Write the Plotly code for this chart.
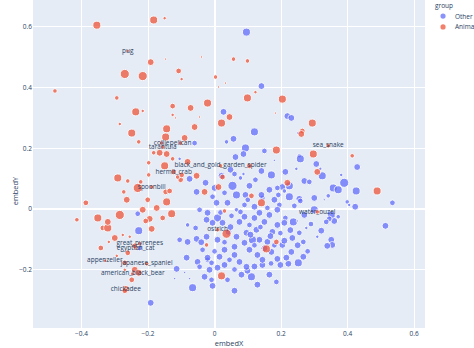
import plotly.graph_objects as go

# ---- data: Animal group (embedX, embedY, size, label) ----
animal_x = [-0.261, -0.159, -0.102, -0.156, 0.018, -0.123, -0.189, 0.342, 0.309, 0.009,
            -0.225, -0.237, -0.330, -0.204, -0.246, -0.267,
            -0.354, -0.183, -0.192, -0.270, -0.216, -0.480, -0.294, -0.237, -0.216, -0.150,
            -0.108, -0.099, 0.003, 0.057, 0.099, 0.123, 0.099, 0.204, -0.126, -0.072,
            -0.021, 0.045, -0.126, 0.294, 0.264, 0.261, 0.297, 0.414, 0.309, 0.489,
            0.219, 0.186, 0.105, 0.111, 0.141, 0.021, 0.156, -0.054, -0.102, -0.030,
            0.012, -0.144, -0.129, -0.156, 0.030, 0.036, 0.186, -0.024, -0.285, -0.249,
            -0.228, -0.144, -0.147, -0.090, -0.060, 0.021, -0.165, -0.144, -0.183, -0.126,
            -0.150, -0.198, -0.081, -0.099, -0.111, 0.024, -0.291, -0.261, -0.222, -0.198,
            -0.231, -0.201, -0.273, -0.264, -0.147, -0.135, -0.387, -0.414, -0.351, -0.336,
            -0.321, -0.321, -0.285, -0.216, -0.174, -0.195, -0.207, -0.189, -0.300, -0.276,
            -0.255, -0.342, -0.318, -0.261, -0.240, -0.294, -0.270, -0.270, -0.240, -0.228,
            -0.249, -0.270,
            -0.147, -0.039, 0.033, 0.012, 0.183, -0.117, -0.045]
animal_y = [0.521, 0.217, 0.217, 0.204, 0.142, 0.122, 0.072, 0.208, -0.010, -0.069,
            -0.115, -0.129, -0.171, -0.181, -0.214, -0.264,
            0.606, 0.623, 0.484, 0.445, 0.438, 0.389, 0.366, 0.320, 0.323, 0.629,
            0.455, 0.428, 0.435, 0.494, 0.488, 0.385, 0.366, 0.362, 0.339, 0.333,
            0.349, 0.303, 0.310, 0.283, 0.257, 0.247, 0.181, 0.175, 0.122, 0.059,
            0.086, 0.194, 0.142, 0.043, 0.020, -0.221, -0.132, 0.109, 0.096, 0.056,
            0.072, 0.023, -0.016, -0.030, -0.007, -0.082, -0.109, -0.119, 0.280, 0.250,
            0.221, 0.264, 0.237, 0.234, 0.270, 0.283, 0.185, 0.181, 0.185, 0.165,
            0.142, 0.152, 0.155, 0.112, 0.105, 0.105, 0.102, 0.092, 0.089, 0.112,
            0.069, 0.030, 0.056, 0.030, 0.056, 0.059, 0.020, -0.036, -0.030, -0.063,
            -0.063, -0.043, -0.020, -0.003, 0.003, -0.033, -0.040, -0.066, -0.096, -0.086,
            -0.092, -0.129, -0.109, -0.145, -0.122, -0.155, -0.178, -0.201, -0.201, -0.211,
            -0.234, -0.270,
            0.494, 0.501, 0.415, 0.402, 0.316, 0.300, 0.303]
animal_size = [3, 4, 4, 4, 4, 5, 4, 4, 4, 4,
               4, 4, 3, 4, 4, 6,
               7, 7, 6, 8, 8, 4, 4, 7, 3, 3,
               5, 3, 4, 4, 4, 3, 7, 7, 5, 6,
               7, 6, 3, 7, 5, 6, 7, 4, 6, 7,
               6, 7, 5, 5, 7, 7, 7, 6, 5, 6,
               6, 7, 7, 5, 4, 8, 5, 4, 3, 7,
               4, 7, 7, 6, 6, 7, 6, 6, 4, 4,
               7, 4, 6, 5, 4, 5, 7, 4, 4, 4,
               8, 5, 4, 6, 5, 5, 5, 4, 7, 5,
               7, 6, 8, 6, 6, 6, 5, 6, 6, 3,
               3, 5, 3, 5, 5, 3, 5, 3, 6, 6,
               5, 5,
               2, 2, 2, 2, 2, 2, 2]
animal_label = ["pug", "collie", "pelican", "tarantula", "black_and_gold_garden_spider",
                "hermit_crab", "spoonbill", "sea_snake", "water_ouzel", "ostrich",
                "great_pyrenees", "egyptian_cat", "appenzeller", "japanese_spaniel",
                "american_black_bear", "chickadee"]

# ---- data: Other group ----
other_x = [0.096, 0.141, 0.027, 0.219, 0.231, 0.252, 0.120, 0.057, 0.093, 0.150,
           0.087, 0.063, 0.255, 0.258, 0.306, 0.429, 0.048, 0.141, 0.087, 0.318,
           0.324, 0.213, 0.246, 0.381, 0.390, 0.270, 0.285, 0.357, 0.372, 0.426,
           0.225, 0.204, 0.210, 0.225, 0.300, 0.342, 0.255, 0.171, 0.123, 0.078,
           0.054, 0.189, 0.535, 0.093, 0.192, 0.144, 0.258, 0.399, 0.423, 0.405,
           0.514, 0.300, 0.351, 0.360, 0.345, 0.372, 0.336, 0.321, 0.351, 0.354,
           0.339, 0.309, 0.276, 0.255, 0.267, 0.237, 0.213, 0.234, 0.231, 0.267,
           0.252, 0.222, 0.216, 0.198, 0.204, 0.021, 0.060, -0.027, -0.054, -0.006,
           0.066, 0.039, 0.006, 0.120, 0.159, 0.195, -0.045, -0.021, 0.066, 0.009,
           -0.006, 0.024, 0.090, 0.120, 0.135, 0.165, 0.189, -0.024, -0.024, -0.081,
           -0.054, -0.105, 0.009, 0.066, 0.096, 0.126, 0.135, 0.174, 0.189, 0.210,
           -0.114, -0.066, -0.006, 0.060, 0.186, -0.030, 0.039, -0.009, 0.081, 0.111,
           0.099, -0.084, -0.051, -0.045, -0.015, 0.009, -0.021, 0.189, 0.144, 0.144,
           0.075, 0.096, -0.192, -0.036, -0.021, -0.009, -0.228, -0.231, -0.225, -0.060,
           0.036, -0.105, -0.075, 0.000, 0.129, 0.165, 0.030, 0.060, 0.105, 0.129,
           0.171, 0.090, 0.159, 0.042, -0.057, -0.081, 0.045, 0.114, 0.015, 0.150,
           0.105, 0.075, 0.051, 0.090, 0.141, 0.165, 0.105, 0.030,
           0.018, 0.048, 0.078, 0.108, 0.138, 0.168, 0.198, 0.228, 0.030, 0.060,
           0.120, 0.150, 0.180, 0.210, 0.000, -0.040, 0.030, 0.060, 0.120, 0.170,
           0.100, 0.180, 0.240, 0.270, 0.290, 0.250, 0.280,
           0.249, -0.090, -0.075, -0.120, 0.330, 0.180]
other_y = [0.583, 0.405, 0.320, 0.306, 0.300, 0.250, 0.254, 0.231, 0.201, 0.191,
           0.181, 0.171, 0.175, 0.165, 0.148, 0.138, 0.129, 0.125, 0.115, 0.132,
           0.109, 0.122, 0.132, 0.112, 0.086, 0.092, 0.089, 0.069, 0.063, 0.059,
           0.076, 0.072, 0.059, 0.040, 0.036, 0.043, 0.033, 0.112, 0.096, 0.102,
           0.076, 0.069, 0.020, 0.046, 0.046, 0.036, 0.026, 0.023, 0.007, 0.013,
           -0.056, -0.003, -0.020, -0.040, -0.033, -0.026, -0.043, -0.072, -0.102, -0.119,
           -0.122, -0.092, -0.063, -0.079, -0.109, -0.043, -0.030, -0.096, -0.142, -0.158,
           -0.178, -0.181, -0.161, -0.185, -0.119, 0.109, 0.115, 0.086, 0.056, 0.040,
           0.046, 0.020, 0.020, 0.007, 0.003, 0.013, -0.003, -0.013, -0.003, -0.030,
           -0.046, -0.046, -0.026, -0.030, -0.013, -0.020, -0.003, -0.036, -0.092, -0.109,
           -0.099, -0.102, -0.102, -0.092, -0.079, -0.069, -0.102, -0.076, -0.053, -0.046,
           -0.198, -0.260, -0.254, -0.270, -0.241, -0.224, -0.234, -0.234, -0.217, -0.224,
           -0.204, -0.161, -0.175, -0.191, -0.201, -0.194, -0.168, -0.165, -0.185, -0.168,
           -0.175, -0.191, -0.310, -0.135, -0.161, -0.178, -0.072, -0.016, -0.129, 0.217,
           0.221, 0.165, 0.099, 0.069, -0.250, -0.217, -0.135, -0.152, -0.135, -0.152,
           -0.142, -0.112, -0.109, -0.076, -0.063, -0.053, -0.168, -0.102, -0.158, -0.043,
           -0.053, -0.043, -0.023, 0.013, 0.046, 0.063, 0.076, 0.053,
           -0.012, -0.060, -0.010, -0.085, -0.060, -0.090, -0.080, -0.070, -0.110, -0.125,
           -0.120, -0.130, -0.120, -0.105, -0.140, -0.110, -0.185, -0.200, -0.190, -0.180,
           0.030, 0.030, 0.010, -0.020, -0.050, -0.120, -0.140,
           -0.040, -0.210, -0.230, -0.230, 0.030, 0.160]
other_size = [7, 6, 6, 6, 6, 3, 7, 6, 7, 5,
              6, 6, 4, 7, 6, 6, 6, 6, 3, 3,
              7, 6, 3, 3, 8, 6, 5, 7, 7, 7,
              7, 6, 4, 7, 6, 4, 6, 7, 5, 4,
              8, 5, 5, 6, 5, 5, 5, 4, 6, 3,
              6, 7, 7, 6, 5, 4, 5, 6, 6, 6,
              6, 3, 3, 5, 5, 7, 5, 6, 6, 6,
              7, 6, 6, 6, 6, 6, 5, 6, 6, 5,
              7, 6, 6, 6, 5, 5, 5, 6, 4, 7,
              6, 6, 6, 6, 6, 6, 6, 6, 6, 6,
              6, 5, 6, 6, 6, 6, 6, 6, 6, 6,
              6, 7, 6, 6, 5, 6, 5, 5, 6, 7,
              6, 6, 6, 5, 6, 6, 5, 6, 6, 6,
              6, 6, 6, 5, 6, 5, 7, 5, 5, 5,
              4, 3, 6, 6, 6, 6, 6, 6, 6, 6,
              6, 6, 6, 6, 5, 4, 5, 7, 6, 6,
              5, 6, 5, 5, 6, 6, 6, 5,
              5, 6, 5, 6, 5, 6, 5, 6, 5, 6,
              5, 6, 5, 6, 5, 6, 6, 5, 6, 5,
              5, 6, 5, 6, 5, 6, 5,
              2, 2, 2, 2, 2, 2]

group_names = ["Other", "Animal"]
group_colors = ["#636efa", "#EF553B"]
legend_title = "group"

animal_text = animal_label + [""] * (len(animal_x) - len(animal_label))
OPACITY = 0.75
FONT_COLOR = "#2a3f5f"

fig = go.Figure()
fig.add_trace(go.Scatter(
    x=other_x, y=other_y, mode="markers", name=group_names[0], showlegend=False,
    marker=dict(color=group_colors[0], size=[s * 1.15 for s in other_size], opacity=OPACITY),
))
fig.add_trace(go.Scatter(
    x=animal_x, y=animal_y, mode="markers+text", name=group_names[1], showlegend=False,
    text=animal_text, textposition="middle center",
    textfont=dict(size=6.5, color=FONT_COLOR),
    marker=dict(color=group_colors[1], size=[s * 1.15 for s in animal_size], opacity=OPACITY),
))

# Legend drawn in the right margin (the reference crops it at the page edge)
annotations = [
    dict(text="embedY", textangle=-90, xref="paper", yref="paper",
         x=-0.064, y=0.42, showarrow=False, font=dict(size=7.4, color=FONT_COLOR)),
    dict(text=legend_title, xref="paper", yref="paper", x=1.021, y=0.982,
         xanchor="left", yanchor="middle", showarrow=False,
         font=dict(size=6.5, color=FONT_COLOR)),
]
shapes = []
legend_rows = [0.951, 0.918]
for name, color, yy in zip(group_names, group_colors, legend_rows):
    annotations.append(dict(text=name, xref="paper", yref="paper", x=1.071, y=yy,
                            xanchor="left", yanchor="middle", showarrow=False,
                            font=dict(size=6.5, color=FONT_COLOR)))
    shapes.append(dict(type="circle", xref="paper", yref="paper",
                       x0=1.046 - 0.0066, x1=1.046 + 0.0066,
                       y0=yy - 0.0079, y1=yy + 0.0079,
                       fillcolor=color, opacity=OPACITY, line=dict(width=0)))

fig.update_layout(
    template="plotly",
    width=474, height=348,
    margin=dict(l=33, r=49, t=0, b=20, autoexpand=False),
    font=dict(size=6.5),
    showlegend=False,
    xaxis=dict(range=[-0.546, 0.633], dtick=0.2, tickfont=dict(size=6.5),
               title=dict(text="embedX", font=dict(size=7.4), standoff=4)),
    yaxis=dict(range=[-0.393, 0.689], dtick=0.2, tickfont=dict(size=6.5)),
    annotations=annotations,
    shapes=shapes,
)

fig.write_html("out.html")
